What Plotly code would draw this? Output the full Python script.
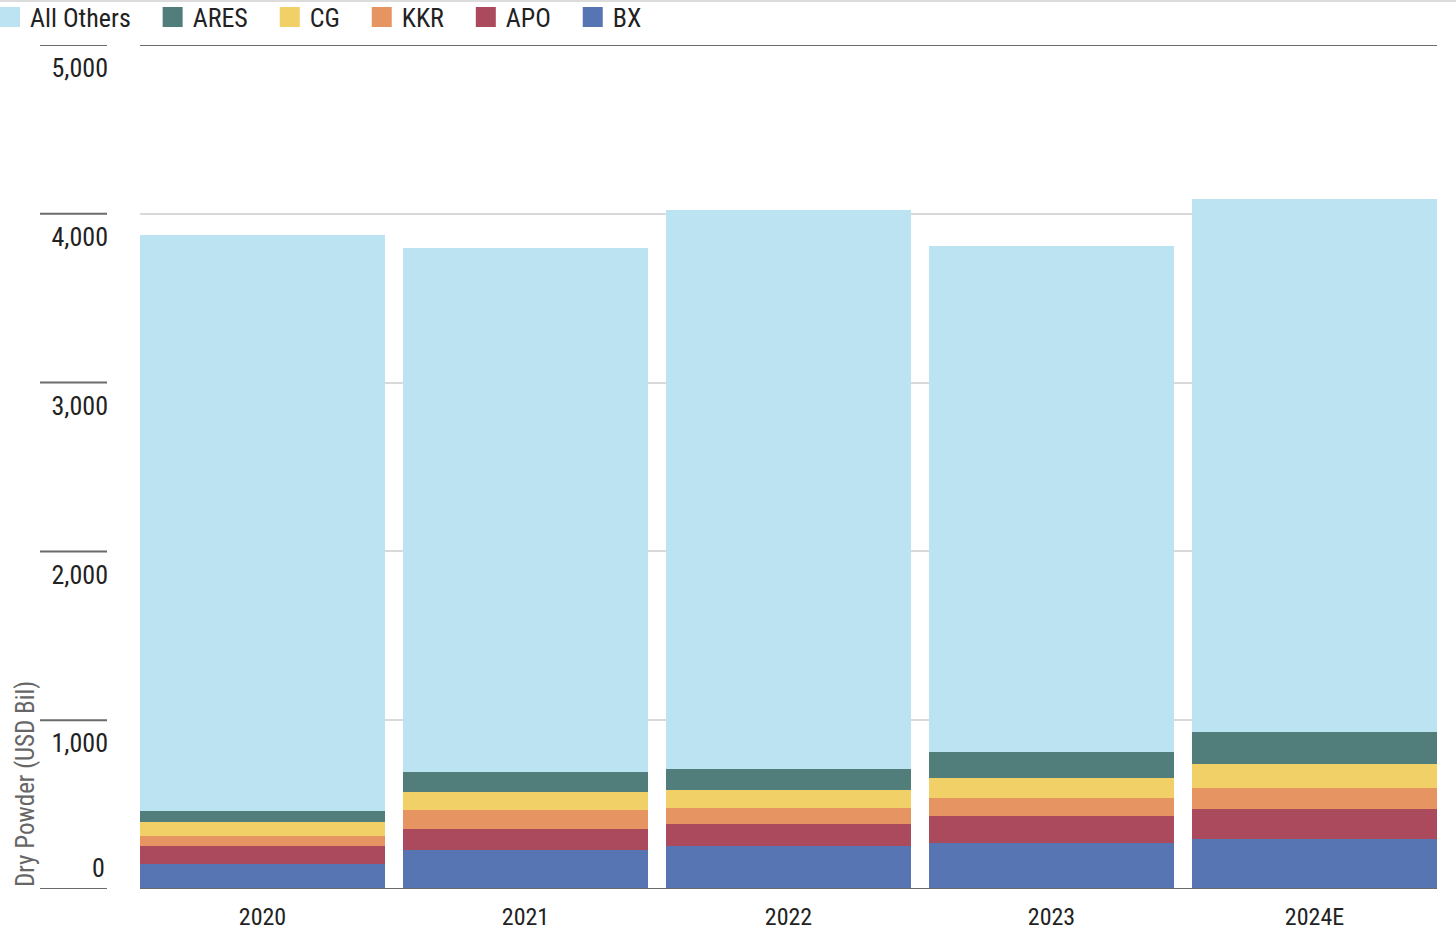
import plotly.graph_objects as go

years = ["2020", "2021", "2022", "2023", "2024E"]
bx = [146, 229, 253, 274, 294]
apo = [107, 128, 134, 158, 182]
kkr = [63, 113, 95, 107, 124]
cg = [79, 107, 106, 120, 139]
ares = [69, 116, 121, 154, 191]
all_others = [3410, 3104, 3314, 2996, 3158]

series = [
    ("BX", bx, "#5775b3"),
    ("APO", apo, "#aa4a5c"),
    ("KKR", kkr, "#e69462"),
    ("CG", cg, "#f1d068"),
    ("ARES", ares, "#517e7b"),
    ("All Others", all_others, "#bce3f2"),
]

FONT = "'Roboto Condensed', Roboto, sans-serif"

W, H = 1456, 938
L, R, T, B = 140, 19, 45, 49
PW = W - L - R
PH = H - T - B

fig = go.Figure()
for name, vals, col in series:
    fig.add_trace(go.Bar(x=years, y=vals, name=name, showlegend=False,
                         marker=dict(color=col, line=dict(width=0))))
# legend entries (square swatches)
for name, vals, col in series:
    fig.add_trace(go.Scatter(x=[None], y=[None], mode="markers", name=name + "\u00a0\u00a0\u2009",
                             marker=dict(symbol="square", size=16, color=col, line=dict(color=col, width=4)),
                             showlegend=True, hoverinfo="skip"))

half = 0.5 * 245 / 263
fig.update_layout(
    width=W, height=H,
    margin=dict(l=L, r=R, t=T, b=B, autoexpand=False),
    barmode="stack",
    bargap=1 - 245 / 263,
    plot_bgcolor="white",
    paper_bgcolor="white",
    font=dict(family=FONT, size=26, color="#222"),
    showlegend=True,
    legend=dict(
        orientation="h", traceorder="reversed",
        x=-(L + 10) / PW, xanchor="left", y=1 + (T - 17) / PH, yanchor="middle",
        font=dict(size=26, color="#222"),
        itemwidth=30, itemclick=False, bgcolor="rgba(0,0,0,0)",
    ),
    xaxis=dict(
        range=[-half, 4 + half], showgrid=False, zeroline=False, showline=False,
        ticks="", tickfont=dict(size=24, color="#222"), ticklabelstandoff=11, automargin=False,
    ),
    yaxis=dict(
        range=[0, 5000], tickvals=[1000, 2000, 3000, 4000, 5000],
        ticktext=["1,000", "2,000", "3,000", "4,000", "5,000"],
        showgrid=True, gridcolor="#d9d9d9", gridwidth=2, zeroline=False, showline=False,
        ticks="", ticklabelshift=23, ticklabelstandoff=31, automargin=False,
        tickfont=dict(size=26, color="#222"),
    ),
)

for v in [0, 5000]:
    fig.add_shape(type="line", xref="paper", yref="y", x0=0, x1=1, y0=v, y1=v,
                  line=dict(color="#6b6b6b", width=2), layer="above")
for v in [0, 1000, 2000, 3000, 4000, 5000]:
    fig.add_shape(type="line", xref="paper", yref="y", x0=(40 - L) / PW, x1=(107 - L) / PW,
                  y0=v, y1=v, line=dict(color="#6b6b6b", width=2))
fig.add_shape(type="line", xref="paper", yref="paper", x0=-L / PW, x1=1 + R / PW,
              y0=1 + (T - 1) / PH, y1=1 + (T - 1) / PH, line=dict(color="#dcdcdc", width=2))

fig.add_annotation(text="0", xref="paper", yref="y", x=(107 - L) / PW, y=0, xanchor="right",
                   yanchor="middle", yshift=21, showarrow=False, font=dict(size=26, color="#222"))
fig.add_annotation(text="Dry Powder (USD Bil)", xref="paper", yref="y", x=(25 - L) / PW, y=0,
                   xanchor="center", yanchor="bottom", textangle=-90, showarrow=False,
                   font=dict(size=25, color="#666"))

fig.write_html("out.html")
